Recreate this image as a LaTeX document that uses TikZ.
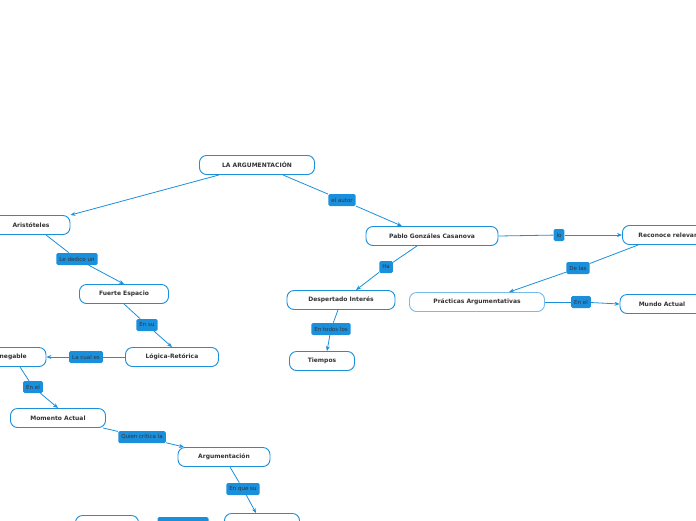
\documentclass[tikz,border=0pt]{standalone}
\usepackage{fontspec}
\setmainfont{DejaVu Sans}
\usetikzlibrary{arrows.meta}
\definecolor{bl}{HTML}{1A8FDC}
\definecolor{tx}{HTML}{333333}
\tikzset{x=1pt,y=-1pt,
 box/.style={draw=bl,line width=0.9pt,rounded corners=7pt,fill=white,minimum height=19pt,inner xsep=0pt,font=\fontsize{6}{7}\selectfont\bfseries,text=tx},
 lab/.style={fill=bl,rounded corners=1.5pt,inner xsep=3pt,minimum height=12pt,inner ysep=0pt,font=\fontsize{5.5}{6}\selectfont,text=tx},
 ln/.style={draw=bl,line width=0.8pt},
 ar/.style={ln,-{Stealth[length=5pt,width=4pt]}}}
\begin{document}
\begin{tikzpicture}
\useasboundingbox (0,0) rectangle (696,520);
\node[box,minimum width=115pt] (root) at (257,165) {LA ARGUMENTACIÓN};
\node[box,minimum width=78pt] (ari) at (31,225) {Aristóteles};
\node[box,minimum width=132pt] (pab) at (432,236) {Pablo Gonzáles Casanova};
\node[box,anchor=west,inner xsep=16pt] (rec) at (622,235) {Reconoce relevancia};
\node[box,minimum width=108pt] (des) at (341,300) {Despertado Interés};
\node[box,minimum width=65pt] (tie) at (322,361) {Tiempos};
\node[box,minimum width=135pt,draw=bl!60] (pra) at (477,302) {Prácticas Argumentativas};
\node[box,minimum width=84pt] (mun) at (662,304) {Mundo Actual};
\node[box,minimum width=89pt] (fue) at (124,294) {Fuerte Espacio};
\node[box,minimum width=93pt] (log) at (172,357) {Lógica-Retórica};
\node[box,minimum width=72pt] (inn) at (10,357) {Innegable};
\node[box,minimum width=95pt] (mom) at (58,418) {Momento Actual};
\node[box,minimum width=92pt] (arg) at (224,457) {Argumentación};
\node[box,minimum width=75pt] (b1) at (262,523) {};
\node[box,minimum width=63pt] (b2) at (107,525) {};
\node[lab,minimum width=51pt] (l0) at (183,523) {};
\node[lab] (l1) at (342,200) {el autor};
\node[lab] (l2) at (77,259) {Le dedico un};
\node[lab] (l3) at (147,325) {En su};
\node[lab] (l4) at (86,357) {La cual es};
\node[lab] (l5) at (33,387) {En el};
\node[lab] (l6) at (142,437) {Quien crítica la};
\node[lab] (l7) at (243,489) {En que su};
\node[lab] (l8) at (386,267) {Ha};
\node[lab] (l9) at (331,329) {En todos los};
\node[lab] (l10) at (559,235) {lo};
\node[lab] (l11) at (578,268) {De las};
\node[lab] (l12) at (581,302) {En el};
\begin{scope}[on background layer/.style={}]
\draw[ar] (root.south west)++(20,0) -- (ari.north east);
\draw[ln] (root.south east)++(-32,0) -- (l1);
\draw[ar] (l1) -- ([xshift=-30pt]pab.north);
\draw[ln] (ari.south)++(15,0) -- (l2);
\draw[ar] (l2) -- (fue.north);
\draw[ln] (fue.south) -- (l3);
\draw[ar] (l3) -- (log.north);
\draw[ln] (log.west) -- (l4);
\draw[ar] (l4) -- (inn.east);
\draw[ln] ([xshift=10pt]inn.south) -- (l5);
\draw[ar] (l5) -- (mom.north);
\draw[ln] ([xshift=45pt]mom.south) -- (l6);
\draw[ar] (l6) -- ([xshift=-40pt]arg.north);
\draw[ln] ([xshift=6pt]arg.south) -- (l7);
\draw[ar] (l7) -- ([xshift=-6pt]b1.north);
\draw[ln] ([xshift=-15pt]pab.south) -- (l8);
\draw[ar] (l8) -- ([xshift=15pt]des.north);
\draw[ln] ([xshift=-3pt]des.south) -- (l9);
\draw[ar] (l9) -- ([xshift=5pt]tie.north);
\draw[ln] (pab.east) -- (l10);
\draw[ar] (l10) -- (rec.west);
\draw[ln] ([xshift=-35pt]rec.south) -- (l11);
\draw[ar] (l11) -- ([xshift=32pt]pra.north);
\draw[ln] (pra.east) -- (l12);
\draw[ar] (l12) -- (mun.west);
\end{scope}
\end{tikzpicture}
\end{document}
